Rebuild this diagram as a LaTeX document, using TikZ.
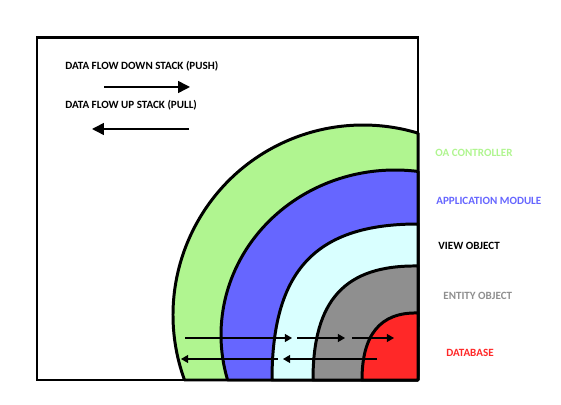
\documentclass[tikz,border=0pt]{standalone}
\usepackage{fontspec}
\setmainfont{Carlito}
\usepackage{tikz}
\usetikzlibrary{arrows.meta, positioning}
\usetikzlibrary{calc}

\definecolor{ctrlgreen}{RGB}{176,245,144}
\definecolor{modblue}{RGB}{102,102,255}
\definecolor{viewcyan}{RGB}{217,255,255}
\definecolor{entgray}{RGB}{143,143,143}
\definecolor{dbred}{RGB}{255,40,40}

\begin{document}
\begin{tikzpicture}[
  x=0.02cm, y=0.02cm,
  label/.style={anchor=west, inner sep=0pt, font=\fontsize{6.3}{7.5}\selectfont\bfseries},
  ring/.style={draw, line width=1.7pt, line join=round},
  bigflow/.style={-{Triangle[length=6.8pt, width=6.8pt]}, line width=0.85pt},
  flow/.style={-{Triangle[length=4pt, width=4.5pt]}, line width=0.6pt}
]
\useasboundingbox (0,0) rectangle (561,405);

% Layers, outermost first
\filldraw[ring, fill=ctrlgreen] (184.5,25) arc[start angle=200, end angle=73.17, radius=190] -- (418,25) -- cycle;
\filldraw[ring, fill=modblue] (227.6,25) arc[start angle=195.83, end angle=82.4, x radius=174, y radius=165] -- (418,25) -- cycle;
\filldraw[ring, fill=viewcyan] (272,25) .. controls (272,135) and (316,181) .. (418,181) -- (418,25) -- cycle;
\filldraw[ring, fill=entgray] (313,25) .. controls (313,105) and (345,140) .. (418,139) -- (418,25) -- cycle;
\filldraw[ring, fill=dbred] (362,25) .. controls (362,70) and (380,93) .. (418,92) -- (418,25) -- cycle;

% Frame
\draw[line width=1.7pt] (37,25) rectangle (418,367);

% Legend
\node[label] (push) at (65,339) {DATA FLOW DOWN STACK (PUSH)};
\node[label] (pull) at (65,300) {DATA FLOW UP STACK (PULL)};
\coordinate (pushS) at (104,318);
\coordinate (pushE) at (190,318);
\coordinate (pullS) at (189,276);
\coordinate (pullE) at (92,276);
\draw[bigflow] (pushS) -- (pushE);
\draw[bigflow] (pullS) -- (pullE);

% Layer names
\node[label, text=ctrlgreen] (ctrl) at (435,252) {OA CONTROLLER};
\node[label, text=modblue] (mod) at (436,204) {APPLICATION MODULE};
\node[label] (view) at (438,159) {VIEW OBJECT};
\node[label, text=entgray] (ent) at (443,109) {ENTITY OBJECT};
\node[label, text=dbred] (db) at (446,52) {DATABASE};

% Flow through the layers
\coordinate (r1) at (185,67);
\coordinate (r2) at (292,67);
\coordinate (r3) at (297,67);
\coordinate (r4) at (345,67);
\coordinate (r5) at (352,67);
\coordinate (r6) at (394,67);
\coordinate (l1) at (377,46);
\coordinate (l2) at (283,46);
\coordinate (l3) at (278,46);
\coordinate (l4) at (181,46);
\draw[flow] (r1) -- (r2);
\draw[flow] (r3) -- (r4);
\draw[flow] (r5) -- (r6);
\draw[flow] (l1) -- (l2);
\draw[flow] (l3) -- (l4);

\end{tikzpicture}
\end{document}
